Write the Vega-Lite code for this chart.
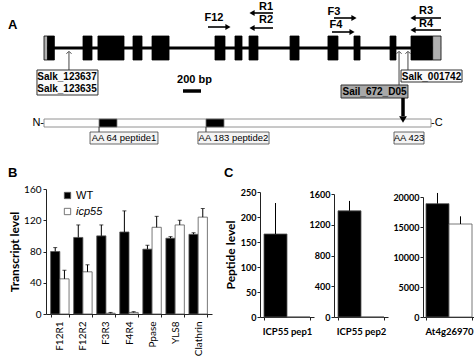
{
  "$schema": "https://vega.github.io/schema/vega-lite/v6.json",
  "padding": {"left": 7, "top": 0, "right": 0, "bottom": 0},
  "bounds": "flush",
  "spacing": 0,
  "config": {
    "font": "Liberation Sans",
    "view": {"stroke": null},
    "axis": {"grid": false, "domainColor": "#222", "tickColor": "#222", "labelColor": "#000", "titleColor": "#000", "titleFont": "Lato", "tickSize": 3, "labelPadding": 2, "labelOverlap": false, "labelBound": false},
    "axisY": {"labelOverlap": false, "labelBound": false, "labelFlush": false},
    "axisLeft": {"labelOverlap": false, "labelBound": false, "labelFlush": false},
    "axisYQuantitative": {"labelOverlap": false, "labelBound": false, "labelFlush": false},
    "axisQuantitative": {"labelOverlap": false, "labelBound": false, "labelFlush": false}
  },
  "vconcat": [
    {
      "width": 429,
      "height": 187,
      "encoding": {
        "x": {"field": "pos", "type": "quantitative", "scale": {"domain": [22.2, 4784.1], "nice": false, "zero": false}, "axis": null},
        "y": {"field": "level", "type": "quantitative", "scale": {"domain": [0, 187], "nice": false, "zero": false, "reverse": true}, "axis": null}
      },
      "layer": [
        {
          "data": {"values": [{"pos": 0, "pos2": 4407, "level": 46}]},
          "mark": {"type": "rule", "strokeWidth": 3, "color": "#000"},
          "encoding": {"x2": {"field": "pos2"}}
        },
        {
          "data": {"values": [
            {"part": "utr", "pos": 0, "pos2": 41, "level": 34, "level2": 58},
            {"part": "exon", "pos": 41, "pos2": 115, "level": 34, "level2": 58},
            {"part": "exon", "pos": 433, "pos2": 533, "level": 34, "level2": 58},
            {"part": "exon", "pos": 599, "pos2": 888, "level": 34, "level2": 58},
            {"part": "exon", "pos": 988, "pos2": 1088, "level": 34, "level2": 58},
            {"part": "exon", "pos": 1199, "pos2": 1388, "level": 34, "level2": 58},
            {"part": "exon", "pos": 1898, "pos2": 2009, "level": 34, "level2": 58},
            {"part": "exon", "pos": 2120, "pos2": 2198, "level": 34, "level2": 58},
            {"part": "exon", "pos": 2276, "pos2": 2375, "level": 34, "level2": 58},
            {"part": "exon", "pos": 2731, "pos2": 2831, "level": 34, "level2": 58},
            {"part": "exon", "pos": 3152, "pos2": 3263, "level": 34, "level2": 58},
            {"part": "exon", "pos": 3441, "pos2": 3508, "level": 34, "level2": 58},
            {"part": "exon", "pos": 3841, "pos2": 3907, "level": 34, "level2": 58},
            {"part": "exon", "pos": 4074, "pos2": 4314, "level": 34, "level2": 58},
            {"part": "utr", "pos": 4314, "pos2": 4407, "level": 34, "level2": 58}
          ]},
          "mark": {"type": "rect", "stroke": "#000", "strokeWidth": 0.8},
          "encoding": {
            "x2": {"field": "pos2"},
            "y2": {"field": "level2"},
            "fill": {"condition": {"test": "datum.part === 'utr'", "value": "#b0b0b0"}, "value": "#000"}
          }
        },
        {
          "data": {"values": [
            {"primer": "F12", "pos": 1820, "pos2": 2042, "level": 25},
            {"primer": "R1", "pos": 2542, "pos2": 2309, "level": 11},
            {"primer": "R2", "pos": 2542, "pos2": 2309, "level": 26},
            {"primer": "F3", "pos": 3219, "pos2": 3441, "level": 16},
            {"primer": "F4", "pos": 3197, "pos2": 3419, "level": 30},
            {"primer": "R3", "pos": 4407, "pos2": 4096, "level": 16},
            {"primer": "R4", "pos": 4407, "pos2": 4096, "level": 28}
          ]},
          "mark": {"type": "rule", "strokeWidth": 1.6, "color": "#000"},
          "encoding": {"x2": {"field": "pos2"}}
        },
        {
          "data": {"values": [
            {"primer": "F12", "head": 2042, "level": 25, "dir": "right"},
            {"primer": "R1", "head": 2309, "level": 11, "dir": "left"},
            {"primer": "R2", "head": 2309, "level": 26, "dir": "left"},
            {"primer": "F3", "head": 3441, "level": 16, "dir": "right"},
            {"primer": "F4", "head": 3419, "level": 30, "dir": "right"},
            {"primer": "R3", "head": 4096, "level": 16, "dir": "left"},
            {"primer": "R4", "head": 4096, "level": 28, "dir": "left"}
          ]},
          "mark": {"type": "point", "filled": true, "color": "#000", "opacity": 1, "size": 36},
          "encoding": {
            "x": {"field": "head", "type": "quantitative"},
            "shape": {"condition": {"test": "datum.dir === 'left'", "value": "triangle-left"}, "value": "triangle-right"}
          }
        },
        {
          "data": {"values": [
            {"label": "F12", "pos": 1887, "level": 15.5},
            {"label": "R1", "pos": 2464, "level": 4.5},
            {"label": "R2", "pos": 2464, "level": 18},
            {"label": "F3", "pos": 3219, "level": 9.5},
            {"label": "F4", "pos": 3241, "level": 23},
            {"label": "R3", "pos": 4240, "level": 9},
            {"label": "R4", "pos": 4240, "level": 22}
          ]},
          "mark": {"type": "text", "fontWeight": "bold", "fontSize": 11, "align": "center", "baseline": "middle", "color": "#000"},
          "encoding": {"text": {"field": "label"}}
        },
        {
          "data": {"values": [
            {"insertion": "Salk_123637", "pos": 277, "level": 50, "level2": 68},
            {"insertion": "Salk_001742", "pos": 4040, "level": 50, "level2": 68},
            {"insertion": "Sail_672_D05", "pos": 3941, "level": 50, "level2": 83}
          ]},
          "mark": {"type": "rule", "strokeWidth": 1, "color": "#444"},
          "encoding": {"y2": {"field": "level2"}}
        },
        {
          "data": {"values": [
            {"insertion": "Salk_123637", "pos": 277, "level": 50.5},
            {"insertion": "Salk_001742", "pos": 4040, "level": 50.5},
            {"insertion": "Sail_672_D05", "pos": 3941, "level": 50.5}
          ]},
          "mark": {"type": "point", "filled": false, "shape": "M-1,0.5L0,-0.5L1,0.5", "size": 25, "stroke": "#444", "strokeWidth": 1, "opacity": 1}
        },
        {
          "data": {"values": [
            {"box": "Salk_123637", "pos": -78, "pos2": 599, "level": 68, "level2": 93},
            {"box": "Salk_001742", "pos": 3963, "pos2": 4640, "level": 68, "level2": 80},
            {"box": "Sail_672_D05", "pos": 3297, "pos2": 4040, "level": 83, "level2": 96}
          ]},
          "mark": {"type": "rect", "stroke": "#333", "strokeWidth": 1},
          "encoding": {
            "x2": {"field": "pos2"},
            "y2": {"field": "level2"},
            "fill": {"condition": {"test": "datum.box === 'Sail_672_D05'", "value": "#a8a8a8"}, "value": "#fafafa"}
          }
        },
        {
          "data": {"values": [
            {"label": "Salk_123637", "pos": 255, "level": 74.5},
            {"label": "Salk_123635", "pos": 255, "level": 87},
            {"label": "Salk_001742", "pos": 4301, "level": 74.5},
            {"label": "Sail_672_D05", "pos": 3669, "level": 90}
          ]},
          "mark": {"type": "text", "fontWeight": "bold", "fontSize": 10, "align": "center", "baseline": "middle", "color": "#000"},
          "encoding": {"text": {"field": "label"}}
        },
        {
          "data": {"values": [{"pos": 1543, "pos2": 1743, "level": 89}]},
          "mark": {"type": "rule", "strokeWidth": 3.5, "color": "#000"},
          "encoding": {"x2": {"field": "pos2"}}
        },
        {
          "data": {"values": [{"label": "200 bp", "pos": 1671, "level": 78}]},
          "mark": {"type": "text", "fontWeight": "bold", "fontSize": 11, "align": "center", "baseline": "middle", "color": "#000"},
          "encoding": {"text": {"field": "label"}}
        },
        {
          "data": {"values": [
            {"segment": "chain", "pos": 0, "pos2": 4296, "level": 117, "level2": 125},
            {"segment": "peptide1", "pos": 611, "pos2": 810, "level": 117, "level2": 125},
            {"segment": "peptide2", "pos": 1798, "pos2": 1998, "level": 117, "level2": 125}
          ]},
          "mark": {"type": "rect", "stroke": "#777", "strokeWidth": 0.8},
          "encoding": {
            "x2": {"field": "pos2"},
            "y2": {"field": "level2"},
            "fill": {"condition": {"test": "datum.segment === 'chain'", "value": "#fff"}, "value": "#000"}
          }
        },
        {
          "data": {"values": [
            {"pos": 611, "level": 125, "level2": 130},
            {"pos": 1798, "level": 125, "level2": 130}
          ]},
          "mark": {"type": "rule", "strokeWidth": 1, "color": "#333"},
          "encoding": {"y2": {"field": "level2"}}
        },
        {
          "data": {"values": [
            {"label": "AA 64 peptide1", "pos": 511, "pos2": 1265, "mid": 888, "level": 130, "level2": 142, "midlevel": 136},
            {"label": "AA 183 peptide2", "pos": 1709, "pos2": 2498, "mid": 2103, "level": 130, "level2": 142, "midlevel": 136},
            {"label": "AA 423", "pos": 3885, "pos2": 4218, "mid": 4052, "level": 130, "level2": 142, "midlevel": 136}
          ]},
          "layer": [
            {
              "mark": {"type": "rect", "fill": "#f4f4f4", "stroke": "#444", "strokeWidth": 0.8},
              "encoding": {"x2": {"field": "pos2"}, "y2": {"field": "level2"}}
            },
            {
              "mark": {"type": "text", "fontSize": 9.5, "align": "center", "baseline": "middle", "color": "#000"},
              "encoding": {"x": {"field": "mid", "type": "quantitative"}, "y": {"field": "midlevel", "type": "quantitative"}, "text": {"field": "label"}}
            }
          ]
        },
        {
          "data": {"values": [{"pos": 3985, "level": 96, "level2": 114}]},
          "mark": {"type": "rule", "strokeWidth": 3.5, "color": "#000"},
          "encoding": {"y2": {"field": "level2"}}
        },
        {
          "data": {"values": [{"pos": 3985, "level": 117.5}]},
          "mark": {"type": "point", "shape": "triangle-down", "filled": true, "color": "#000", "size": 60, "opacity": 1}
        },
        {
          "data": {"values": [{"label": "N-", "pos": 0, "level": 121}]},
          "mark": {"type": "text", "fontSize": 11, "align": "right", "baseline": "middle", "color": "#000"},
          "encoding": {"text": {"field": "label"}}
        },
        {
          "data": {"values": [{"label": "-C", "pos": 4296, "level": 121}]},
          "mark": {"type": "text", "fontSize": 11, "align": "left", "baseline": "middle", "color": "#000"},
          "encoding": {"text": {"field": "label"}}
        },
        {
          "data": {"values": [
            {"label": "A", "pos": -400, "level": 23},
            {"label": "B", "pos": -400, "level": 171},
            {"label": "C", "pos": 1998, "level": 171}
          ]},
          "mark": {"type": "text", "fontWeight": "bold", "fontSize": 13, "align": "left", "baseline": "middle", "color": "#000"},
          "encoding": {"text": {"field": "label"}}
        }
      ]
    },
    {
      "bounds": "flush",
      "spacing": 20,
      "resolve": {"scale": {"xOffset": "independent", "color": "independent"}},
      "hconcat": [
        {
          "width": 194,
          "height": 125,
          "data": {"values": [
            {"target": "F12R1", "genotype": "WT", "value": 80, "err": 85},
            {"target": "F12R1", "genotype": "icp55", "value": 45, "err": 56},
            {"target": "F12R2", "genotype": "WT", "value": 98, "err": 114},
            {"target": "F12R2", "genotype": "icp55", "value": 54, "err": 63},
            {"target": "F3R3", "genotype": "WT", "value": 100, "err": 114},
            {"target": "F3R3", "genotype": "icp55", "value": 1, "err": 2},
            {"target": "F4R4", "genotype": "WT", "value": 105, "err": 132},
            {"target": "F4R4", "genotype": "icp55", "value": 2, "err": 3},
            {"target": "Ppase", "genotype": "WT", "value": 83, "err": 88},
            {"target": "Ppase", "genotype": "icp55", "value": 111, "err": 125},
            {"target": "YLS8", "genotype": "WT", "value": 97, "err": 99},
            {"target": "YLS8", "genotype": "icp55", "value": 114, "err": 120},
            {"target": "Clathrin", "genotype": "WT", "value": 102, "err": 104},
            {"target": "Clathrin", "genotype": "icp55", "value": 124, "err": 135}
          ]},
          "encoding": {
            "x": {"field": "target", "type": "nominal", "sort": ["F12R1", "F12R2", "F3R3", "F4R4", "Ppase", "YLS8", "Clathrin"], "scale": {"range": [0, 166], "paddingInner": 0.2, "paddingOuter": 0.2}, "axis": {"title": null, "labelAngle": -90, "labelFont": "Lato", "labelFontSize": 10, "labelPadding": 4, "tickBand": "extent"}},
            "xOffset": {"field": "genotype", "type": "nominal", "sort": ["WT", "icp55"], "scale": {"domain": ["WT", "icp55"], "paddingInner": 0, "paddingOuter": 0}},
            "y": {"field": "value", "type": "quantitative", "scale": {"domain": [0, 160], "nice": false}, "axis": {"values": [0, 40, 80, 120, 160], "labelOverlap": false, "labelBound": false, "labelFlush": false, "zindex": 1, "title": "Transcript level", "titleFontSize": 12, "titleFontWeight": "bold", "labelFont": "Lato", "labelFontSize": 10, "titlePadding": 2}}
          },
          "layer": [
            {
              "mark": {"type": "bar", "stroke": "#555", "strokeWidth": 0.8},
              "encoding": {
                "color": {"field": "genotype", "type": "nominal", "sort": ["WT", "icp55"], "scale": {"domain": ["WT", "icp55"], "range": ["#000", "#fff"]},
                  "legend": {"title": null, "orient": "none", "legendX": 16, "legendY": 1, "symbolType": "square", "symbolSize": 40, "symbolStrokeColor": "#555", "symbolStrokeWidth": 0.8, "labelFont": "Liberation Sans", "labelFontSize": 11, "labelOffset": 3, "rowPadding": 4, "padding": 0, "labelFontStyle": {"expr": "datum.label === 'icp55' ? 'italic' : 'normal'"}}}
              }
            },
            {
              "mark": {"type": "rule", "color": "#000", "strokeWidth": 1},
              "encoding": {"y2": {"field": "err"}}
            },
            {
              "mark": {"type": "tick", "orient": "horizontal", "color": "#000", "size": 4, "thickness": 1},
              "encoding": {"y": {"field": "err", "type": "quantitative", "scale": {"domain": [0, 160], "nice": false}, "axis": {"values": [0, 40, 80, 120, 160], "labelOverlap": false, "labelBound": false, "labelFlush": false, "zindex": 1, "title": "Transcript level", "titleFontSize": 12, "titleFontWeight": "bold", "labelFont": "Lato", "labelFontSize": 10, "titlePadding": 2}}}
            }
          ]
        },
        {
          "width": 54,
          "height": 128,
          "data": {"values": [
            {"target": "ICP55 pep1", "genotype": "WT", "value": 166, "err": 228},
            {"target": "ICP55 pep1", "genotype": "icp55", "value": 0, "err": 0}
          ]},
          "encoding": {
            "x": {"field": "target", "type": "nominal", "scale": {"paddingInner": 0, "paddingOuter": 0.087}, "axis": {"title": null, "labelAngle": 0, "labelFont": "Lato", "labelFontSize": 9.5, "labelFontWeight": "bold", "labelPadding": 6, "tickBand": "extent"}},
            "xOffset": {"field": "genotype", "type": "nominal", "sort": ["WT", "icp55"], "scale": {"domain": ["WT", "icp55"], "paddingInner": 0, "paddingOuter": 0}},
            "y": {"field": "value", "type": "quantitative", "scale": {"domain": [0, 250], "nice": false, "range": [128, 3]}, "axis": {"values": [0, 50, 100, 150, 200, 250], "labelOverlap": false, "labelBound": false, "labelFlush": false, "zindex": 1, "title": "Peptide level", "titleFontSize": 12, "titleFontWeight": "bold", "labelFont": "Lato", "labelFontSize": 9, "labelFontWeight": "bold", "labelPadding": 1, "titlePadding": 3}}
          },
          "layer": [
            {
              "mark": {"type": "bar", "stroke": "#555", "strokeWidth": 0.8},
              "encoding": {"fill": {"condition": {"test": "datum.genotype === 'icp55'", "value": "#fff"}, "value": "#000"}}
            },
            {
              "transform": [{"filter": "datum.genotype === 'WT'"}],
              "mark": {"type": "rule", "color": "#000", "strokeWidth": 1},
              "encoding": {"y2": {"field": "err"}}
            }
          ]
        },
        {
          "width": 69,
          "height": 128,
          "data": {"values": [
            {"target": "ICP55 pep2", "genotype": "WT", "value": 1381, "err": 1510},
            {"target": "ICP55 pep2", "genotype": "icp55", "value": 0, "err": 0}
          ]},
          "encoding": {
            "x": {"field": "target", "type": "nominal", "scale": {"range": [0, 54], "paddingInner": 0, "paddingOuter": 0.087}, "axis": {"title": null, "labelAngle": 0, "labelFont": "Lato", "labelFontSize": 9.5, "labelFontWeight": "bold", "labelPadding": 6, "tickBand": "extent"}},
            "xOffset": {"field": "genotype", "type": "nominal", "sort": ["WT", "icp55"], "scale": {"domain": ["WT", "icp55"], "paddingInner": 0, "paddingOuter": 0}},
            "y": {"field": "value", "type": "quantitative", "scale": {"domain": [0, 1600], "nice": false, "range": [128, 5]}, "axis": {"values": [0, 400, 800, 1200, 1600], "format": "d", "labelOverlap": false, "labelBound": false, "labelFlush": false, "zindex": 1, "title": null, "labelFont": "Lato", "labelFontSize": 9, "labelFontWeight": "bold", "labelPadding": 1}}
          },
          "layer": [
            {
              "mark": {"type": "bar", "stroke": "#555", "strokeWidth": 0.8},
              "encoding": {"fill": {"condition": {"test": "datum.genotype === 'icp55'", "value": "#fff"}, "value": "#000"}}
            },
            {
              "transform": [{"filter": "datum.genotype === 'WT'"}],
              "mark": {"type": "rule", "color": "#000", "strokeWidth": 1},
              "encoding": {"y2": {"field": "err"}}
            }
          ]
        },
        {
          "width": 52,
          "height": 128,
          "data": {"values": [
            {"target": "At4g26970", "genotype": "WT", "value": 18890, "err": 20670},
            {"target": "At4g26970", "genotype": "icp55", "value": 15500, "err": 16780}
          ]},
          "encoding": {
            "x": {"field": "target", "type": "nominal", "scale": {"paddingInner": 0, "paddingOuter": 0.065}, "axis": {"title": null, "labelAngle": 0, "labelFont": "Lato", "labelFontSize": 9.5, "labelFontWeight": "bold", "labelPadding": 6, "tickBand": "extent"}},
            "xOffset": {"field": "genotype", "type": "nominal", "sort": ["WT", "icp55"], "scale": {"domain": ["WT", "icp55"], "paddingInner": 0, "paddingOuter": 0}},
            "y": {"field": "value", "type": "quantitative", "scale": {"domain": [0, 20000], "nice": false, "range": [128, 8]}, "axis": {"values": [0, 5000, 10000, 15000, 20000], "format": "d", "labelOverlap": false, "labelBound": false, "labelFlush": false, "zindex": 1, "title": null, "labelFont": "Lato", "labelFontSize": 9, "labelFontWeight": "bold", "labelPadding": 1}}
          },
          "layer": [
            {
              "mark": {"type": "bar", "stroke": "#555", "strokeWidth": 0.8},
              "encoding": {"fill": {"condition": {"test": "datum.genotype === 'icp55'", "value": "#fff"}, "value": "#000"}}
            },
            {
              "mark": {"type": "rule", "color": "#000", "strokeWidth": 1},
              "encoding": {"y2": {"field": "err"}}
            }
          ]
        }
      ]
    }
  ]
}
